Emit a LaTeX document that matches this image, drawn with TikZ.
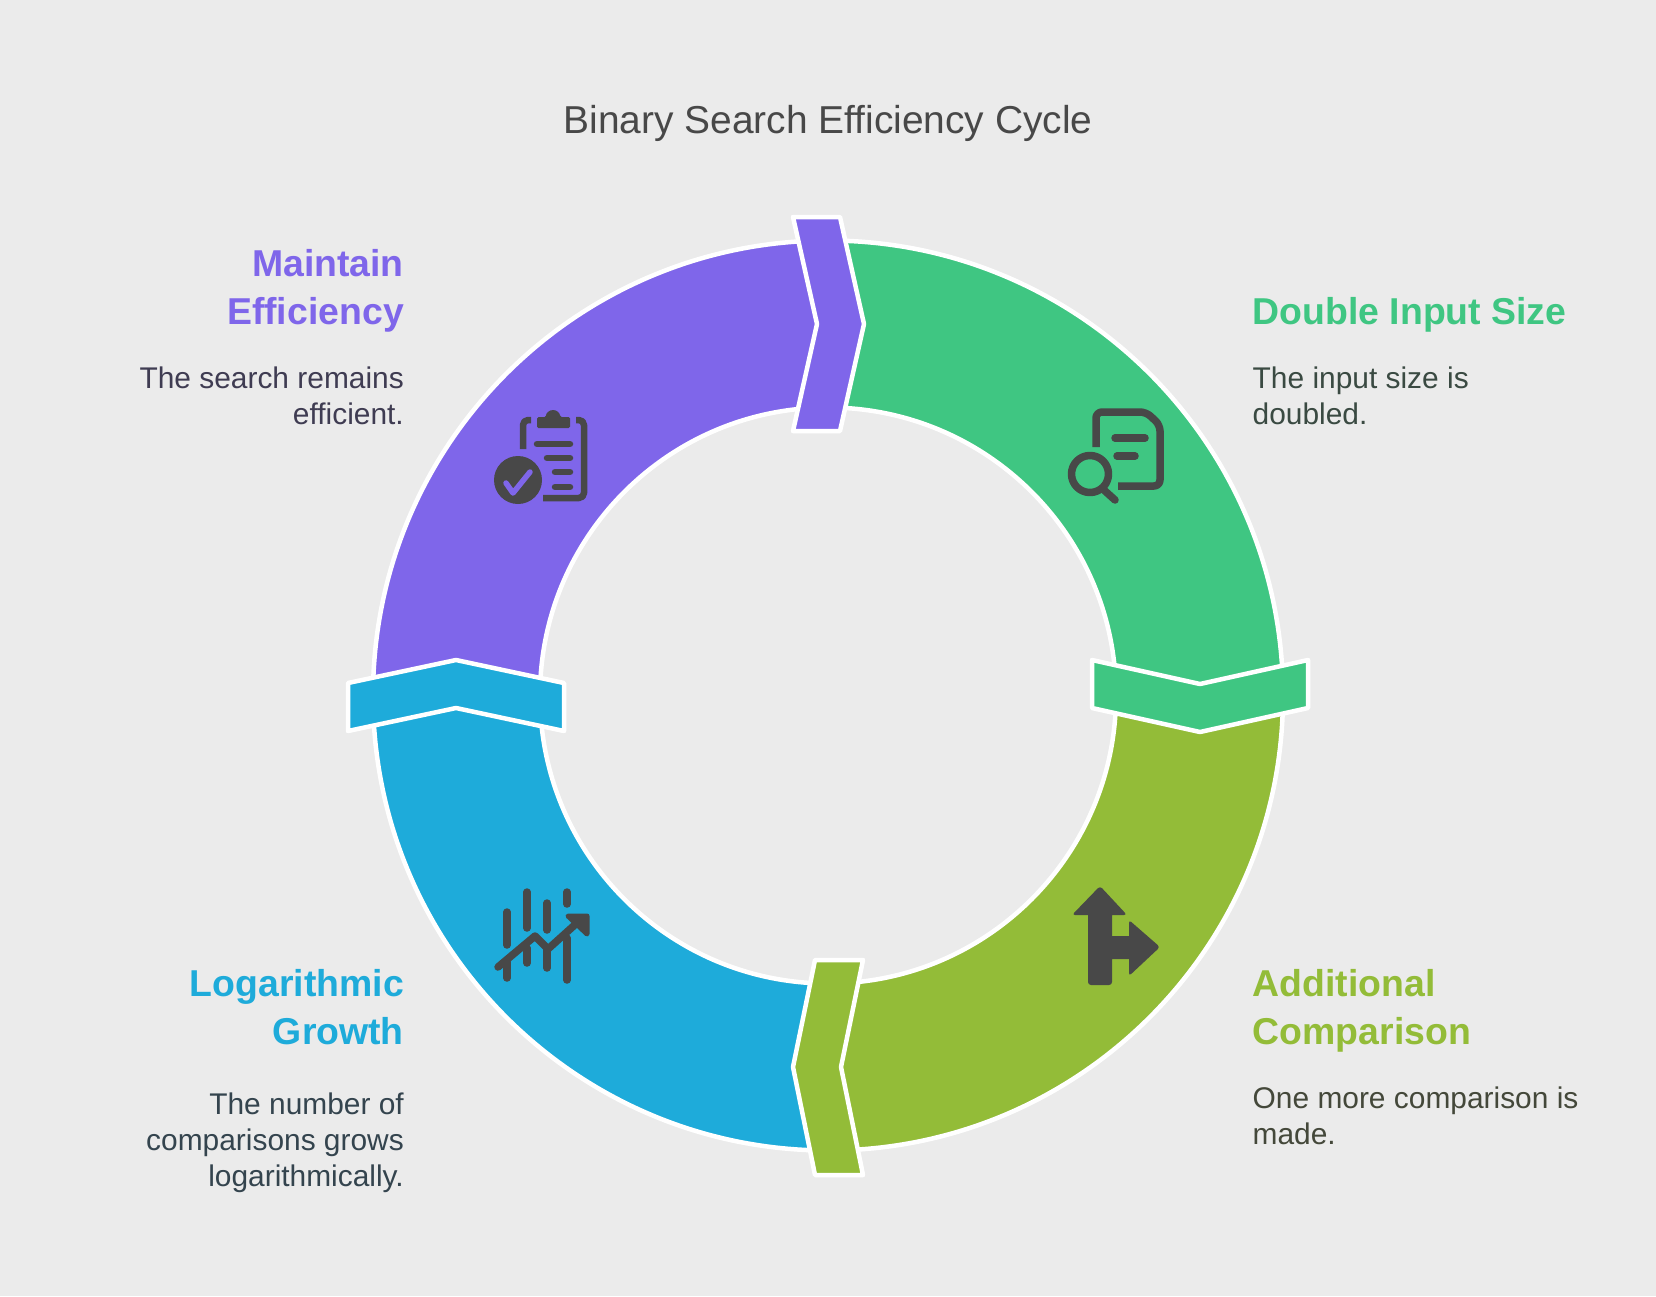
\documentclass[tikz,border=0pt]{standalone}
\usepackage{fontspec}
\setmainfont{Liberation Sans}
\definecolor{bgc}{HTML}{EBEBEB}
\definecolor{vio}{HTML}{7F66EA}
\definecolor{grn}{HTML}{3FC682}
\definecolor{lim}{HTML}{93BC38}
\definecolor{sky}{HTML}{1EABDA}
\definecolor{ico}{HTML}{484848}
\definecolor{ttl}{HTML}{484848}
\definecolor{bvio}{HTML}{3F3C52}
\definecolor{bgrn}{HTML}{3A4A42}
\definecolor{blim}{HTML}{44483A}
\definecolor{bsky}{HTML}{34444E}
\tikzset{
  seg/.style={draw=white,line width=4.5pt,line join=round},
  chev/.style={draw=white,line width=4.5pt,line join=round},
  headl/.style={inner sep=0pt,anchor=north west,align=left,font=\fontsize{37.4}{48}\selectfont\bfseries},
  headr/.style={inner sep=0pt,anchor=north east,align=right,font=\fontsize{37.4}{48}\selectfont\bfseries},
  bodyl/.style={inner sep=0pt,anchor=north west,align=left,font=\fontsize{29.9}{36}\selectfont},
  bodyr/.style={inner sep=0pt,anchor=north east,align=right,font=\fontsize{29.9}{36}\selectfont},
  iconline/.style={draw=ico,line width=7.5pt,line cap=round,line join=round},
  thinline/.style={draw=ico,line width=6.5pt,line cap=round,line join=round},
}
\newcommand{\topfix}{\rule{0pt}{30pt}}
\begin{document}
\begin{tikzpicture}[x=1pt,y=-1pt]
\path[use as bounding box,fill=bgc] (0,0) rectangle (1656,1296);
% ring sectors
\draw[seg,fill=vio] (373,695.5) arc[start angle=180,end angle=90,radius=455pt] -- (828,407.5) arc[start angle=90,end angle=180,radius=288pt] -- cycle;
\draw[seg,fill=grn] (828,240.5) arc[start angle=90,end angle=0,radius=455pt] -- (1116,695.5) arc[start angle=0,end angle=90,radius=288pt] -- cycle;
\draw[seg,fill=lim] (1283,695.5) arc[start angle=0,end angle=-90,radius=455pt] -- (828,983.5) arc[start angle=-90,end angle=0,radius=288pt] -- cycle;
\draw[seg,fill=sky] (828,1150.5) arc[start angle=-90,end angle=-180,radius=455pt] -- (540,695.5) arc[start angle=180,end angle=270,radius=288pt] -- cycle;
% chevrons
\draw[chev,fill=vio] (793,217) -- (840,217) -- (864,324) -- (840,431) -- (793,431) -- (817,324) -- cycle;
\draw[chev,fill=grn] (1092,660) -- (1200,684) -- (1308,660) -- (1308,708) -- (1200,732) -- (1092,708) -- cycle;
\draw[chev,fill=lim] (815,960) -- (863,960) -- (841,1067) -- (863,1175) -- (815,1175) -- (793,1067) -- cycle;
\draw[chev,fill=sky] (348,683) -- (456,660) -- (564,683) -- (564,731) -- (456,708) -- (348,731) -- cycle;
% document + magnifier icon
\draw[iconline,line cap=butt,rounded corners=6pt] (1096,447) -- (1096,412) -- (1146,412) -- (1160,425) -- (1160,486) -- (1118,486);
\draw[iconline] (1115,438) -- (1145,438);
\draw[iconline] (1117,456) -- (1135,456);
\draw[iconline] (1090,474) circle[radius=18.5pt];
\draw[iconline] (1105,491) -- (1115,500);
% clipboard icon
\draw[thinline,line cap=butt,rounded corners=5pt] (523,449) -- (523,420) -- (531,420);
\draw[thinline,line cap=butt,rounded corners=5pt] (576,420) -- (584,420) -- (584,498) -- (543,498);
\fill[ico,rounded corners=1.5pt] (537,417) -- (546,417) arc[start angle=180,end angle=0,radius=7pt] -- (570,417) -- (570,428) -- (537,428) -- cycle;
\draw[thinline] (537,444) -- (570,444);
\draw[thinline] (547,458) -- (570,458);
\draw[thinline] (555,472) -- (570,472);
\draw[thinline] (555,487) -- (570,487);
\fill[ico] (518,480) circle[radius=24pt];
\draw[vio,line width=5.5pt,line cap=round,line join=round] (506,483) -- (513,493) -- (530,472);
% branching arrows icon
\fill[ico] (1100,886) [rounded corners=3pt] -- (1127,915) [sharp corners] -- (1112,915) -- (1112,936) -- (1129,936) [rounded corners=3pt] -- (1129,920) -- (1160,947) -- (1129,976) [sharp corners] -- (1129,959) -- (1112,959) [rounded corners=3pt] -- (1112,985) -- (1088,985) [sharp corners] -- (1088,915) [rounded corners=3pt] -- (1072,915) -- cycle;
% chart icon
\begin{scope}[draw=ico,line width=7.5pt,line cap=round]
\draw (507,912) -- (507,945);
\draw (507,962) -- (507,978);
\draw (527,892) -- (527,928);
\draw (527,948) -- (527,963);
\draw (547,903) -- (547,930);
\draw (547,950) -- (547,968);
\draw (567,892) -- (567,904);
\draw (567,938) -- (567,980);
\end{scope}
\draw[iconline] (498,967) -- (535,936) -- (548,949) -- (578,922);
\draw[iconline,fill=ico,line width=5pt] (568,916) -- (587,916) -- (587,934) -- cycle;
% texts
\node[font=\fontsize{38.9}{44}\selectfont,text=ttl,inner sep=0pt] (title) at (828,123) {Binary Search Efficiency Cycle};
\node[headr,text=vio] (h1) at (404,246) {\topfix Maintain\\Efficiency};
\node[bodyr,text=bvio] (b1) at (404,358.5) {\topfix The search remains\\efficient.};
\node[headl,text=grn] (h2) at (1252.5,294) {\topfix Double Input Size};
\node[bodyl,text=bgrn] (b2) at (1252.5,358.5) {\topfix The input size is\\doubled.};
\node[headl,text=lim] (h3) at (1252.5,966) {\topfix Additional\\Comparison};
\node[bodyl,text=blim] (b3) at (1252.5,1078.5) {\topfix One more comparison is\\made.};
\node[headr,text=sky] (h4) at (404,966) {\topfix Logarithmic\\Growth};
\node[bodyr,text=bsky] (b4) at (404,1084.5) {\topfix The number of\\comparisons grows\\logarithmically.};
\end{tikzpicture}
\end{document}
